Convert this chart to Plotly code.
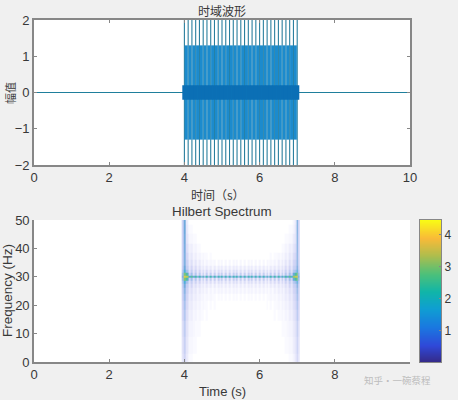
import plotly.graph_objects as go

# ---- waveform (top panel) ----
baseline_t = [0, 4, 7, 10]
baseline_y = [0, 0, 0, 0]
spike_times = [4.0, 4.1, 4.2, 4.3, 4.4, 4.5, 4.6, 4.7, 4.8, 4.9, 5.0, 5.1, 5.2, 5.3, 5.4, 5.5,
               5.6, 5.7, 5.8, 5.9, 6.0, 6.1, 6.2, 6.3, 6.4, 6.5, 6.6, 6.7, 6.8, 6.9, 7.0]
band_times = [4.05, 4.15, 4.25, 4.35, 4.45, 4.55, 4.65, 4.75, 4.85, 4.95, 5.05, 5.15, 5.25, 5.35, 5.45,
              5.55, 5.65, 5.75, 5.85, 5.95, 6.05, 6.15, 6.25, 6.35, 6.45, 6.55, 6.65, 6.75, 6.85, 6.95]
spike_amp = 2.0
band_amp = 1.3
core_amp = 0.2

# ---- Hilbert spectrum (bottom panel) ----
freqs = [0, 6, 12, 17, 20, 23, 25, 27, 28, 29, 30, 31, 32, 33, 35, 37, 40, 43, 47, 50]
left_times = [3.95, 4.0, 4.05, 4.1, 4.15, 4.2, 4.25, 4.3, 4.35, 4.4, 4.45, 4.5, 4.55, 4.6, 4.65, 4.7,
              4.75, 4.8, 4.85, 4.9, 4.95, 5.0, 5.05, 5.1, 5.15, 5.2, 5.25, 5.3, 5.35, 5.4, 5.45, 5.5]
right_times = [7.05, 7.0, 6.95, 6.9, 6.85, 6.8, 6.75, 6.7, 6.65, 6.6, 6.55, 6.5, 6.45, 6.4, 6.35, 6.3,
               6.25, 6.2, 6.15, 6.1, 6.05, 6.0, 5.95, 5.9, 5.85, 5.8, 5.75, 5.7, 5.65, 5.6, 5.55]
power_rows = [
 [.10,.22,.08,.03,.01,.01,0,0,0,0,0,0,0,0,0,0,0,0,0,0,0,0,0,0,0,0,0,0,0,0,0,0],
 [.12,.28,.10,.05,.02,.02,.01,.01,0,0,0,0,0,0,0,0,0,0,0,0,0,0,0,0,0,0,0,0,0,0,0,0],
 [.14,.34,.12,.07,.03,.03,.02,.01,.01,.01,0,0,0,0,0,0,0,0,0,0,0,0,0,0,0,0,0,0,0,0,0,0],
 [.18,.42,.15,.10,.04,.05,.02,.03,.01,.02,.01,.01,0,.01,0,0,0,0,0,0,0,0,0,0,0,0,0,0,0,0,0,0],
 [.20,.50,.18,.13,.05,.07,.03,.04,.02,.03,.01,.02,.01,.01,0,.01,0,.01,0,0,0,0,0,0,0,0,0,0,0,0,0,0],
 [.24,.62,.22,.16,.06,.10,.04,.06,.03,.04,.02,.03,.01,.02,.01,.02,.01,.01,0,.01,0,.01,0,.01,0,.01,0,.01,0,.01,0,.01],
 [.26,.75,.26,.20,.08,.13,.05,.09,.03,.07,.03,.05,.02,.04,.01,.03,.01,.03,.01,.03,.01,.03,.01,.03,.01,.03,.01,.03,.01,.03,.01,.03],
 [.30,.95,.32,.27,.10,.20,.07,.14,.05,.11,.04,.09,.03,.08,.03,.07,.02,.07,.02,.06,.02,.06,.02,.06,.02,.06,.02,.06,.02,.06,.02,.06],
 [.40,1.5,.55,.40,.14,.30,.10,.24,.08,.20,.06,.18,.05,.16,.05,.15,.04,.15,.04,.14,.04,.14,.04,.14,.04,.14,.04,.14,.04,.14,.04,.14],
 [.60,2.6,2.1,1.1,.24,.55,.14,.42,.10,.38,.08,.35,.07,.32,.07,.32,.06,.30,.06,.30,.06,.30,.06,.30,.06,.30,.06,.30,.06,.30,.06,.30],
 [.80,3.4,3.2,2.8,1.4,2.2,1.0,2.0,.8,1.9,.7,1.9,.6,1.9,.6,1.9,.6,1.8,.6,1.8,.6,1.8,.6,1.8,.6,1.8,.6,1.8,.6,1.8,.6,1.8],
 [.60,2.6,2.1,1.1,.24,.55,.14,.42,.10,.38,.08,.35,.07,.32,.07,.32,.06,.30,.06,.30,.06,.30,.06,.30,.06,.30,.06,.30,.06,.30,.06,.30],
 [.40,1.5,.55,.42,.14,.32,.10,.26,.08,.20,.06,.18,.05,.16,.05,.15,.04,.15,.04,.14,.04,.14,.04,.14,.04,.14,.04,.14,.04,.14,.04,.14],
 [.30,1.0,.32,.28,.10,.20,.07,.16,.05,.12,.04,.09,.03,.08,.03,.07,.02,.07,.02,.06,.02,.06,.02,.06,.02,.06,.02,.06,.02,.06,.02,.06],
 [.26,.85,.26,.20,.07,.14,.04,.10,.03,.07,.02,.05,.01,.03,.01,.02,.01,.02,0,.02,0,.02,0,.02,0,.02,0,.02,0,.02,0,.02],
 [.24,.85,.20,.15,.05,.09,.03,.05,.02,.03,.01,.02,.01,.01,0,.01,0,0,0,0,0,0,0,0,0,0,0,0,0,0,0,0],
 [.24,.90,.16,.10,.04,.05,.02,.03,.01,.01,0,0,0,0,0,0,0,0,0,0,0,0,0,0,0,0,0,0,0,0,0,0],
 [.24,.95,.12,.06,.02,.02,.01,.01,0,0,0,0,0,0,0,0,0,0,0,0,0,0,0,0,0,0,0,0,0,0,0,0],
 [.24,1.0,.10,.03,.01,.01,0,0,0,0,0,0,0,0,0,0,0,0,0,0,0,0,0,0,0,0,0,0,0,0,0,0],
 [.24,1.0,.08,.02,0,0,0,0,0,0,0,0,0,0,0,0,0,0,0,0,0,0,0,0,0,0,0,0,0,0,0,0],
]
padding_times = [0, 3.9]
edge_times = [7.1, 10]

# ---- colorbar ----
bar_levels = [0.02, 0.5, 1.0, 1.5, 2.0, 2.5, 3.0, 3.5, 4.0, 4.45]
bar_ticks = [1, 2, 3, 4]

# ---- texts and ticks ----
time_ticks = [0, 2, 4, 6, 8, 10]
time_labels_bottom = ["0", "2", "4", "6", "8", ""]
title_top = "时域波形"
xlabel_top = "时间（s）"
ylabel_top = "幅值"
title_bottom = "Hilbert Spectrum"
xlabel_bottom = "Time (s)"
ylabel_bottom = "Frequency (Hz)"
watermark = "知乎·一碗蔡程"

W, H = 458, 400
BG = "#f0f0f0"
AXC = "#878787"
TXT = "#383838"
LATIN = "Liberation Sans, Arial, sans-serif"
CJK = "Noto Sans CJK SC, sans-serif"
PARULA = [[0, "#352a87"], [0.12, "#2f48d8"], [0.25, "#1a78e0"], [0.38, "#0f9ed2"], [0.5, "#10b5a8"],
          [0.62, "#4cc07a"], [0.75, "#b0bd4c"], [0.87, "#f9ba38"], [1, "#f9fb15"]]
ZMAX = 4.45
IMG = [[0, "#ffffff"], [0.01 / ZMAX, "#fafaff"], [0.05 / ZMAX, "#eeeefc"], [0.2 / ZMAX, "#d4d6f6"],
       [0.5 / ZMAX, "#a9c2ee"], [1.0 / ZMAX, "#6fa9dc"], [1.5 / ZMAX, "#4fb0d8"], [2.0 / ZMAX, "#45bdaa"],
       [2.8 / ZMAX, "#94c86c"], [3.4 / ZMAX, "#d8cb4c"], [1, "#f9fb15"]]


def segs(xs, half):
    out_x, out_y = [], []
    for x in xs:
        out_x += [x, x, None]
        out_y += [-half, half, None]
    return out_x, out_y


def label(text, px, py, font, size, color=TXT, angle=0):
    return dict(text=text, x=px / W, y=1 - py / H, xref="paper", yref="paper", showarrow=False, textangle=angle,
                xanchor="center", yanchor="middle", font=dict(family=font, size=size, color=color))


fig = go.Figure()
sx, sy = segs(spike_times, spike_amp)
bx, by = segs(band_times, band_amp)
cx, cy = segs(spike_times, core_amp)
fig.add_trace(go.Scatter(x=baseline_t, y=baseline_y, mode="lines", line=dict(color="#1f7f9c", width=1), hoverinfo="skip"))
fig.add_trace(go.Scatter(x=sx, y=sy, mode="lines", line=dict(color="#2a7f9e", width=1.1), hoverinfo="skip"))
fig.add_trace(go.Scatter(x=bx, y=by, mode="lines", line=dict(color="#1c8bcd", width=3), hoverinfo="skip"))
fig.add_trace(go.Scatter(x=cx, y=cy, mode="lines", line=dict(color="#0b6fb5", width=4.2), hoverinfo="skip"))

zero_row = [0] * 2
xs = padding_times + left_times + right_times[::-1] + edge_times
z = [zero_row + row + row[:-1][::-1] + zero_row for row in power_rows]
fig.add_trace(go.Heatmap(x=xs, y=freqs, z=z, xaxis="x2", yaxis="y2", zmin=0, zmax=ZMAX,
                         colorscale=IMG, showscale=False, hoverinfo="skip"))
fig.add_trace(go.Heatmap(x=[0, 1], y=bar_levels, z=[[v, v] for v in bar_levels], xaxis="x3", yaxis="y3",
                         zmin=0.02, zmax=ZMAX, colorscale=PARULA, showscale=False, zsmooth="best", hoverinfo="skip"))

axis = dict(showgrid=False, zeroline=False, linecolor=AXC, linewidth=1.6, ticks="inside", ticklen=3, automargin=False,
            tickcolor=AXC, tickfont=dict(family=LATIN, size=13, color=TXT), showline=True)
fig.update_layout(
    width=W, height=H, autosize=False, showlegend=False, paper_bgcolor=BG, plot_bgcolor="#ffffff",
    margin=dict(l=0, r=0, t=0, b=0, pad=0, autoexpand=False),
    xaxis=dict(axis, domain=[34 / W, 410 / W], range=[0, 10], tickvals=time_ticks, anchor="y", mirror="ticks"),
    yaxis=dict(axis, domain=[1 - 165 / H, 1 - 20 / H], range=[-2, 2], tickvals=[-2, -1, 0, 1, 2], anchor="x", mirror="ticks"),
    xaxis2=dict(axis, domain=[34 / W, 410 / W], range=[0, 10], tickvals=time_ticks, ticktext=time_labels_bottom, anchor="y2"),
    yaxis2=dict(axis, domain=[1 - 362 / H, 1 - 220 / H], range=[0, 50], tickvals=[0, 10, 20, 30, 40, 50], anchor="x2"),
    xaxis3=dict(domain=[420 / W, 441 / W], range=[0, 1], anchor="y3", showticklabels=False, ticks="", showgrid=False,
                zeroline=False, showline=True, linecolor=AXC, linewidth=1.2, mirror=True),
    yaxis3=dict(domain=[1 - 362 / H, 1 - 220 / H], range=[0.02, ZMAX], anchor="x3", side="right", tickvals=bar_ticks,
                ticks="inside", ticklen=2, tickcolor=AXC, showgrid=False, zeroline=False, showline=True,
                linecolor=AXC, linewidth=1.2, mirror=True, tickfont=dict(family=LATIN, size=12, color=TXT)),
    annotations=[
        label(title_top, 222, 10, CJK, 12),
        label(xlabel_top, 218, 194, CJK, 12),
        label(ylabel_top, 10, 93, CJK, 11, angle=-90),
        label(title_bottom, 222, 211, LATIN, 13.4),
        label(xlabel_bottom, 222, 391, LATIN, 13),
        label(ylabel_bottom, 7, 291, LATIN, 13.5, angle=-90),
        label(watermark, 397, 380, CJK, 9.5, color="#bdbdbd"),
    ],
)
fig.write_html("out.html", config={"displayModeBar": False},
               post_script="document.body.style.margin='0';document.documentElement.style.overflow='hidden';")
